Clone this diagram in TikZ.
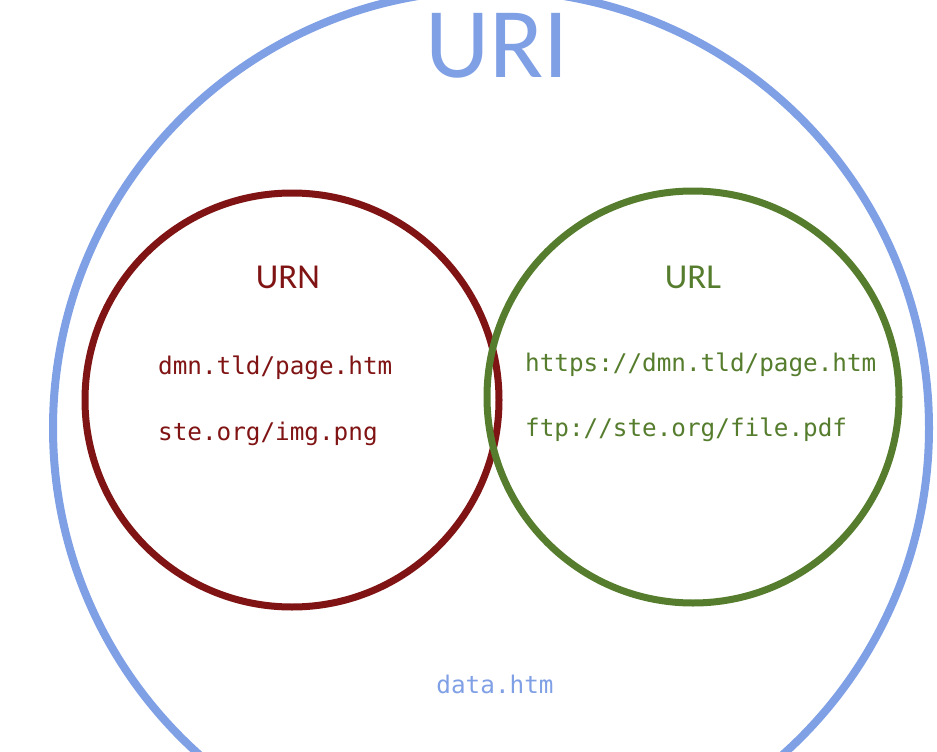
\documentclass[tikz,border=0pt]{standalone}
\usepackage{fontspec}
\setmainfont{Carlito}
\setmonofont{DejaVu Sans Mono}
\definecolor{uriblue}{RGB}{128,160,230}
\definecolor{urnred}{RGB}{128,20,20}
\definecolor{urlgreen}{RGB}{85,125,45}
\begin{document}
\begin{tikzpicture}[x=1pt,y=-1pt,
  lbl/.style={font=\fontsize{35}{35}\selectfont},
  mono/.style={font=\ttfamily\fontsize{24.3}{24.3}\selectfont, anchor=west, inner sep=0pt}]
\useasboundingbox (0,0) rectangle (937,752);
\clip (0,0) rectangle (937,752);
\fill[white] (0,0) rectangle (937,752);
\draw[uriblue, line width=8] (491,428) circle (438);
\draw[urnred, line width=7] (292,400) circle (207);
\draw[urlgreen, line width=7] (693,397) circle (206);
\node[uriblue, font=\fontsize{100}{100}\selectfont] (uri) at (497,46) {URI};
\node[urnred, lbl] (urn) at (288,277) {URN};
\node[urlgreen, lbl] (url) at (693,277) {URL};
\node[urnred, mono] (n1) at (158,368) {dmn.tld/page.htm};
\node[urnred, mono] (n2) at (158,434) {ste.org/img.png};
\node[urlgreen, mono] (l1) at (525,365) {https://dmn.tld/page.htm};
\node[urlgreen, mono] (l2) at (525,430) {ftp://ste.org/file.pdf};
\node[uriblue, font=\ttfamily\fontsize{24.3}{24.3}\selectfont] (d) at (495,684) {data.htm};
\end{tikzpicture}
\end{document}
